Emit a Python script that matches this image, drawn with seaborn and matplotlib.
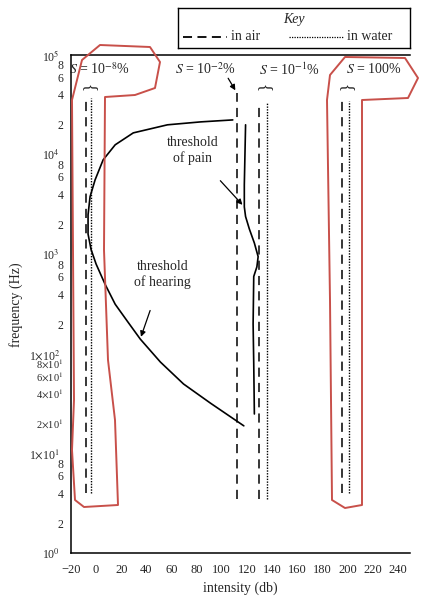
import matplotlib
matplotlib.use("Agg")
import matplotlib.pyplot as plt
import seaborn as sns
import pandas as pd
from matplotlib.patches import Polygon
from matplotlib.ticker import FixedLocator, FixedFormatter

sns.set_style("white")
plt.rcParams['font.family'] = ['Liberation Serif', 'DejaVu Serif', 'DejaVu Sans']
plt.rcParams['mathtext.fontset'] = 'stix'

# data
hear_x = [108.8, 83.2, 56.8, 29.6, 15.2, 5.6, -0.8, -4.8, -6.4, -6.4, -4, 0, 7.2, 15.2, 24.8, 35.2, 51.2, 69.6, 91.2, 117.6]
hear_f = [22400, 21400, 20000, 16600, 12600, 8900, 5600, 3800, 2500, 1600, 1120, 800, 500, 316, 214, 141, 83, 50, 32, 19]
pain_x = [119, 118.5, 118, 118, 119, 122, 126, 129, 128, 125.5, 125, 125.5, 126]
pain_f = [20000, 10000, 5000, 3000, 2400, 1800, 1300, 950, 750, 600, 200, 80, 25]
s_labels = [r'$S$ = 10$^{-8}$%', r'$S$ = 10$^{-2}$%', r'$S$ = 10$^{-1}$%', r'$S$ = 100%']
air_x = [-8, 112, 130, 196]
water_x = [-4, None, 136, 201]
line_top = [37000, 42000, 33000, 35000]
line_bot = [4, 3.5, 3.5, 4]
label_x = [3, 87, 154, 221]

fig = plt.figure(figsize=(4.25, 6), dpi=100)
ax = fig.add_axes([0.167, 0.078, 0.798, 0.83])
ax.set_yscale('log')
ax.set_xlim(-20, 250)
ax.set_ylim(1, 1e5)

sns.lineplot(data=pd.DataFrame({'x': hear_x, 'f': hear_f}), x='x', y='f', sort=False, color='black', lw=1.2, ax=ax, estimator=None)
sns.lineplot(data=pd.DataFrame({'x': pain_x, 'f': pain_f}), x='x', y='f', sort=False, color='black', lw=1.2, ax=ax, estimator=None)

for i in range(4):
    ax.plot([air_x[i]] * 2, [line_bot[i], line_top[i]], color='black', ls=(0, (6, 4)), lw=1.1)
    if water_x[i] is not None:
        ax.plot([water_x[i]] * 2, [line_bot[i], line_top[i]], color='black', ls=(0, (1, 1)), lw=1.0)
    ax.text(label_x[i], 7.2e4, s_labels[i], ha='center', va='center', fontsize=10)
    if water_x[i] is not None:
        cx = (air_x[i] + water_x[i]) / 2
        ax.text(cx, 4.7e4, '{', ha='center', va='center', fontsize=12, rotation=-90)

ax.annotate('', xy=(112, 4.2e4), xytext=(104, 6.2e4),
            arrowprops=dict(arrowstyle='-|>', color='black', lw=0.9, mutation_scale=8))
ax.annotate('threshold\nof pain', xy=(118, 3000), xytext=(77, 11000), ha='center', va='center', fontsize=10,
            arrowprops=dict(arrowstyle='-|>', color='black', lw=0.9, mutation_scale=8, shrinkA=12))
ax.annotate('threshold\nof hearing', xy=(35, 140), xytext=(53, 630), ha='center', va='center', fontsize=10,
            arrowprops=dict(arrowstyle='-|>', color='black', lw=0.9, mutation_scale=8, shrinkA=14))

ax.set_xticks(list(range(-20, 241, 20)))
ax.set_xticklabels(['\u221220'] + [str(v) for v in range(0, 241, 20)], fontsize=9)
ax.set_xticks(list(range(-10, 251, 20)), minor=True)

maj = [1, 10, 100, 1000, 1e4, 1e5]
ax.yaxis.set_major_locator(FixedLocator(maj))
ax.yaxis.set_major_formatter(FixedFormatter([r'10$^0$', r'1$\times$10$^1$', r'1$\times$10$^2$', r'10$^3$', r'10$^4$', r'10$^5$']))
mins, minl = [], []
for d in range(5):
    for m in range(2, 10):
        mins.append(m * 10 ** d)
        if m in (2, 4, 6, 8):
            if d == 1:
                minl.append(r'%d$\times$10$^1$' % m)
            else:
                minl.append(str(m))
        else:
            minl.append('')
ax.yaxis.set_minor_locator(FixedLocator(mins))
ax.yaxis.set_minor_formatter(FixedFormatter(minl))
ax.tick_params(axis='y', which='both', labelsize=8.5, direction='inout', pad=1)
ax.tick_params(axis='y', which='major', length=14, width=1.2)
ax.tick_params(axis='y', which='minor', length=9, width=1.0)
for t in ax.yaxis.get_minor_ticks()[8:16]:
    t.label1.set_fontsize(7.5)
ax.tick_params(axis='x', which='major', direction='inout', length=9, labelsize=9)
ax.tick_params(axis='x', which='minor', direction='inout', length=6)
ax.spines['right'].set_visible(False)
for s in ['left', 'bottom', 'top']:
    ax.spines[s].set_color('black')
    ax.spines[s].set_linewidth(1.1)
ax.set_xlabel('intensity (db)', fontsize=10)
ax.set_ylabel('frequency (Hz)', fontsize=10)

# key box
kax = fig.add_axes([178 / 425, 1 - 48 / 600, 232 / 425, 40 / 600])
kax.set_xticks([]); kax.set_yticks([])
kax.set_xlim(0, 1); kax.set_ylim(0, 1)
for s in kax.spines.values():
    s.set_color('black'); s.set_linewidth(1.0)
kax.text(0.5, 0.72, 'Key', style='italic', ha='center', va='center', fontsize=10)
kax.plot([0.02, 0.21], [0.28, 0.28], color='black', ls=(0, (5, 3)), lw=1.3)
kax.text(0.23, 0.28, 'in air', ha='left', va='center', fontsize=10)
kax.plot([0.48, 0.71], [0.28, 0.28], color='black', ls=(0, (1, 1)), lw=0.9)
kax.text(0.73, 0.28, 'in water', ha='left', va='center', fontsize=10)

# red hand-drawn outlines (figure pixel coords)
def px(pts):
    return [(x / 425, 1 - y / 600) for x, y in pts]
o1 = px([(100, 45), (150, 47), (160, 62), (155, 88), (135, 95), (105, 97), (104, 250), (108, 360),
         (115, 420), (118, 505), (84, 507), (75, 500), (72, 450), (74, 400), (72, 100), (82, 60)])
o2 = px([(345, 57), (405, 58), (418, 78), (408, 98), (362, 100), (362, 300), (362, 505), (345, 508),
         (332, 500), (330, 300), (327, 100), (330, 75)])
for o in (o1, o2):
    fig.patches.append(Polygon(o, closed=True, fill=False, edgecolor='#c8504a', lw=1.4,
                               joinstyle='round', transform=fig.transFigure))

fig.savefig('out.png', dpi=100)
